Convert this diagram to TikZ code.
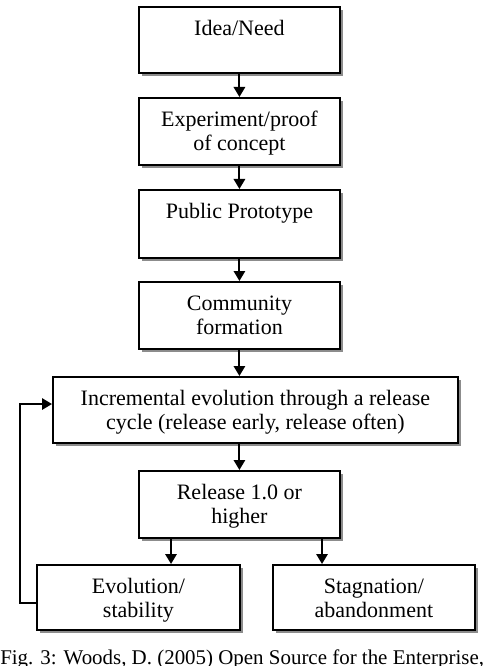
\documentclass[tikz,border=0pt]{standalone}
\usepackage{fontspec}
\setmainfont{Liberation Serif}
\usetikzlibrary{arrows.meta,shadows,calc}
\newcommand{\tbox}[3]{\parbox[c][#2][t]{#1}{\centering\rule{0pt}{21.75pt}#3}}
\tikzset{
  box/.style={draw, fill=white, line width=1.4pt, inner sep=0pt, anchor=north west,
    font=\fontsize{16.5}{18}\selectfont,
    drop shadow={shadow xshift=2.4pt, shadow yshift=-2.4pt, fill=black!45, opacity=1}},
  arr/.style={line width=1.5pt, -{Triangle[width=8.5pt,length=7.5pt]}}
}
\begin{document}
\begin{tikzpicture}[x=0.75pt,y=-0.75pt]
\useasboundingbox (0,0) rectangle (500,666);
\node[box] (idea)  at (138,6)   {\tbox{150.75pt}{49.5pt}{Idea/Need}};
\node[box] (exp)   at (138,97)  {\tbox{150.75pt}{50.25pt}{Experiment/proof\\of concept}};
\node[box] (proto) at (138,189) {\tbox{150.75pt}{51pt}{Public Prototype}};
\node[box] (comm)  at (138,281) {\tbox{150.75pt}{50.25pt}{Community\\formation}};
\node[box] (incr)  at (52,376)  {\tbox{303.75pt}{49.5pt}{Incremental evolution through a release\\cycle (release early, release often)}};
\node[box] (rel)   at (138,470) {\tbox{150.75pt}{50.25pt}{Release 1.0 or\\higher}};
\node[box] (evo)   at (36,564)  {\tbox{152.25pt}{48.75pt}{Evolution/\\stability}};
\node[box] (stag)  at (272,564) {\tbox{151.5pt}{48.75pt}{Stagnation/\\abandonment}};
\node[anchor=base west, inner sep=0pt, font=\fontsize{15.7}{18}\selectfont] (cap) at (0,664)
  {Fig. 3: Woods, D. (2005) Open Source for the Enterprise,};
\draw[arr] (idea) -- (exp);
\draw[arr] (exp) -- (proto);
\draw[arr] (proto) -- (comm);
\draw[arr] (comm.south) -- (comm.south |- incr.north);
\draw[arr] (rel.north |- incr.south) -- (rel.north);
\coordinate (r1) at ($(rel.south west)+(33,0)$);
\coordinate (r2) at ($(rel.south west)+(184,0)$);
\draw[arr] (r1) -- (r1 |- evo.north);
\draw[arr] (r2) -- (r2 |- stag.north);
\coordinate (fb) at ($(evo.north west)+(0,39)$);
\coordinate (fi) at ($(incr.north west)+(0,28)$);
\draw[arr] (fb) -- ++(-16,0) |- (fi);
\end{tikzpicture}
\end{document}
